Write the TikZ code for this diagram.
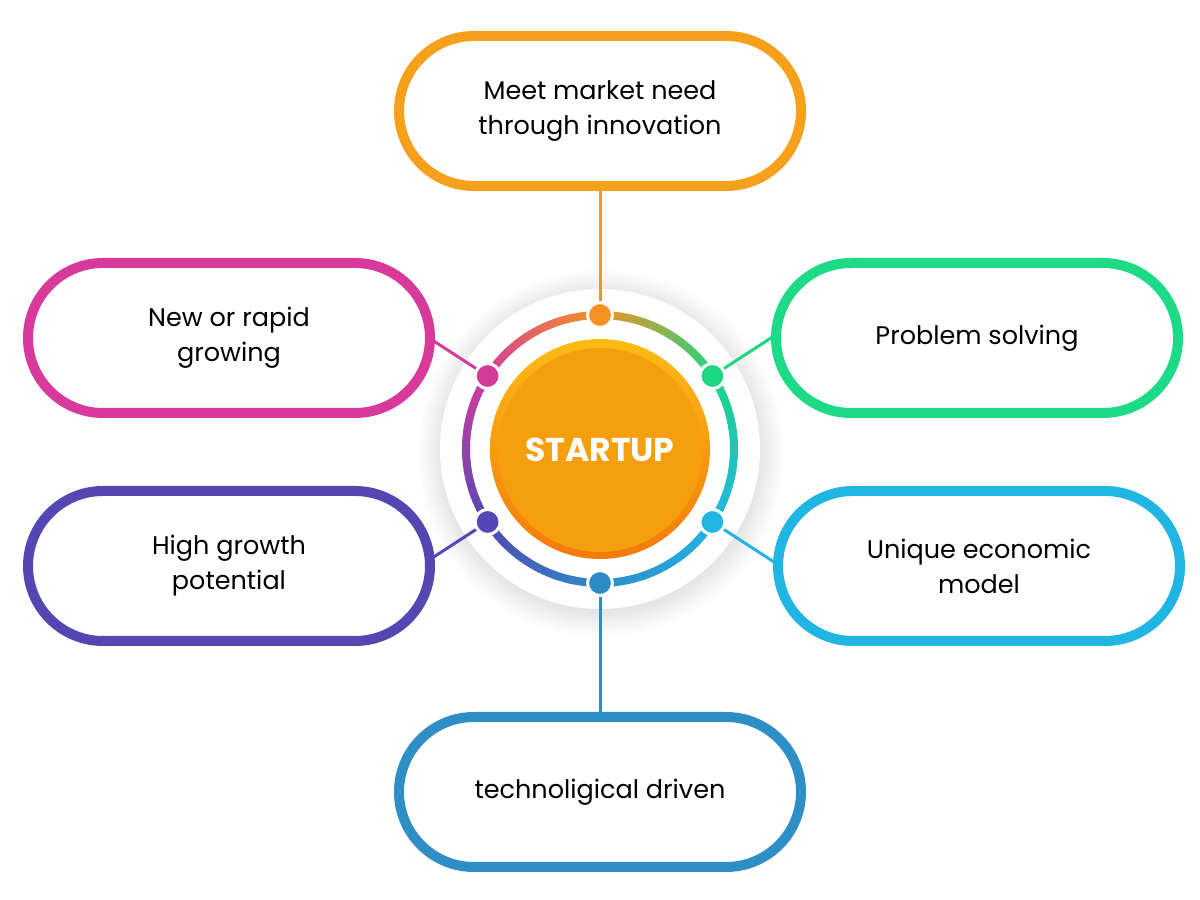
\documentclass[tikz,border=0pt]{standalone}
\usepackage{fontspec}
\setmainfont{Poppins}
\usetikzlibrary{calc}
\definecolor{cO}{HTML}{F39322}
\definecolor{cG}{HTML}{1DD684}
\definecolor{cC}{HTML}{22B5E4}
\definecolor{cB}{HTML}{2D8CC6}
\definecolor{cI}{HTML}{5448B4}
\definecolor{cP}{HTML}{D43C9C}
\definecolor{bO}{HTML}{F7A01C}
\definecolor{bP}{HTML}{D83A9B}
\definecolor{bG}{HTML}{1ED985}
\definecolor{bC}{HTML}{20B5E3}
\definecolor{bI}{HTML}{5547B1}
\definecolor{bB}{HTML}{2E8EC6}
\definecolor{sunTop}{HTML}{FBBC14}
\definecolor{sunBot}{HTML}{F47A0A}
\definecolor{sunMid}{HTML}{F59F0E}
\begin{document}
\begin{tikzpicture}[x=1pt,y=1pt,
  box/.style={draw, line width=10pt, fill=white, rounded corners=75pt,
    minimum width=402pt, minimum height=150pt, inner sep=0pt, align=center,
    font=\fontsize{25.5}{35}\selectfont, text=black},
  dot/.style={circle, draw=white, line width=3pt, minimum size=25pt, inner sep=0pt},
  link/.style={line width=3pt}]
\fill[white] (0,0) rectangle (1200,900);
\useasboundingbox (0,0) rectangle (1200,900);
\coordinate (c) at (600,451);
% shadow and white disc
\foreach \r in {160,...,184}{
  \fill[black,opacity=0.005] ($(c)+(1pt,-4pt)$) circle (\r pt);
}
\fill[white] (c) circle (160pt);
% dots positions and connector ends
\foreach \n/\ang in {dT/90, dG/33, dC/-33, dB/-90, dI/-147, dP/147}{
  \coordinate (\n) at ($(c)+(\ang:134pt)$);
}
\coordinate (eT) at ($(c)+(90:300pt)$);
\coordinate (eB) at ($(c)+(-90:300pt)$);
\coordinate (eG) at ($(c)+(33:225pt)$);
\coordinate (eC) at ($(c)+(-33:225pt)$);
\coordinate (eI) at ($(c)+(-147:225pt)$);
\coordinate (eP) at ($(c)+(147:225pt)$);
\draw[link, cO] (dT) -- (eT);
\draw[link, cB] (dB) -- (eB);
\draw[link, cG] (dG) -- (eG);
\draw[link, cC] (dC) -- (eC);
\draw[link, cI] (dI) -- (eI);
\draw[link, cP] (dP) -- (eP);
% gradient ring
\foreach \a/\b/\ca/\cb in {33/90/cG/cO, -33/33/cC/cG, -90/-33/cB/cC, -147/-90/cI/cB, -213/-147/cP/cI, -270/-213/cO/cP}{
  \foreach \i in {0,...,29}{
    \pgfmathsetmacro{\s}{\a+(\b-\a)*\i/30}
    \pgfmathsetmacro{\e}{\a+(\b-\a)*(\i+1)/30+0.4}
    \pgfmathtruncatemacro{\p}{100*(\i+0.5)/30}
    \colorlet{segc}{\cb!\p!\ca}
    \draw[segc, line width=8pt] ($(c)+(\s:134pt)$) arc[start angle=\s, end angle=\e, radius=134pt];
  }
}
% dots
\node[dot, fill=cO] (nT) at (dT) {};
\node[dot, fill=cG] (nG) at (dG) {};
\node[dot, fill=cC] (nC) at (dC) {};
\node[dot, fill=cB] (nB) at (dB) {};
\node[dot, fill=cI] (nI) at (dI) {};
\node[dot, fill=cP] (nP) at (dP) {};
% centre
\shade[top color=sunTop, bottom color=sunBot] (c) circle (110pt);
\node[circle, fill=sunMid, minimum size=204pt, inner sep=0pt, text=white,
  font=\fontsize{33}{38}\selectfont\bfseries] (startup) at ($(c)+(0,-1pt)$) {STARTUP};
% boxes
\node[box, draw=bO] (top) at (600,789) {Meet market need\\through innovation};
\node[box, draw=bP] (pink) at (229,562) {New or rapid\\growing};
\node[box, draw=bG] (green) at (977,562) {Problem solving};
\node[box, draw=bC] (cyan) at (979,334) {Unique economic\\model};
\node[box, draw=bI] (purple) at (229,334) {High growth\\potential};
\node[box, draw=bB] (bottom) at (600,108) {technoligical driven};
\end{tikzpicture}
\end{document}
